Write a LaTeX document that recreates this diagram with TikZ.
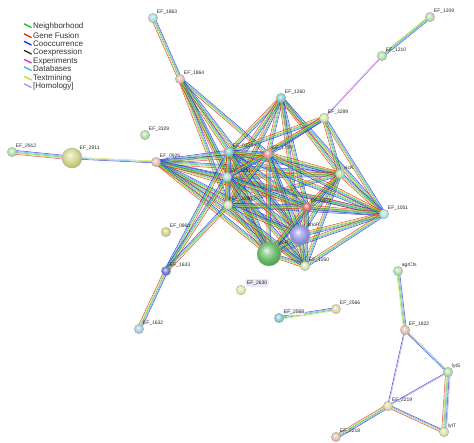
\documentclass[tikz,border=0pt]{standalone}
\usepackage{fontspec}
\setmainfont{Liberation Sans}
\usetikzlibrary{calc}
% edge colours
\definecolor{cG}{RGB}{40,190,40}
\definecolor{cR}{RGB}{230,40,40}
\definecolor{cB}{RGB}{40,40,220}
\definecolor{cK}{RGB}{40,40,40}
\definecolor{cM}{RGB}{210,50,210}
\definecolor{cC}{RGB}{70,170,230}
\definecolor{cY}{RGB}{190,220,50}
\definecolor{cL}{RGB}{160,160,235}
% node colours
\definecolor{kTeal}{RGB}{120,200,200}
\definecolor{kCyan}{RGB}{160,215,225}
\definecolor{kTan}{RGB}{225,185,165}
\definecolor{kLG}{RGB}{170,220,160}
\definecolor{kYG}{RGB}{210,225,160}
\definecolor{kPink}{RGB}{225,140,140}
\definecolor{kRed}{RGB}{220,90,90}
\definecolor{kPur}{RGB}{140,140,225}
\definecolor{kGreen}{RGB}{90,180,90}
\definecolor{kOlive}{RGB}{210,205,110}
\definecolor{kBlue}{RGB}{90,105,200}
\definecolor{kLBlue}{RGB}{165,200,230}
\definecolor{kYel}{RGB}{225,225,160}
\definecolor{kBeige}{RGB}{230,210,160}
\definecolor{kBig}{RGB}{205,210,130}
\definecolor{halo}{RGB}{232,232,248}
\makeatletter
\pgfdeclareradialshading[tikz@ball]{lball}{\pgfqpoint{-6bp}{8bp}}{%
  color(0bp)=(tikz@ball!10!white);
  color(8bp)=(tikz@ball!55!white);
  color(18bp)=(tikz@ball!90!white);
  color(28bp)=(tikz@ball!88!black);
  color(36bp)=(tikz@ball!72!black);
  color(50bp)=(tikz@ball!60!black)}
\tikzset{lball color/.code={\pgfutil@colorlet{tikz@ball}{#1}\def\tikz@shading{lball}\tikz@addmode{\tikz@mode@shadetrue}}}
\makeatother
\pgfdeclarelayer{bg}
\pgfsetlayers{bg,main}
\newcount\lkn
\def\lkgap{0.95}
\def\Cf{cR,cY,cG,cC,cB}
\def\Cfl{cR,cY,cG,cC,cB,cL}
\def\Cthree{cB,cC,cY}
\def\Cfour{cY,cG,cC,cB}
\def\Chom{cL,cM}
\def\Cbl{cB,cL}
\def\Crt{cR,cY,cC,cB}
\newcommand\lnk[3]{%
  \global\lkn=0
  \foreach \c in #1 {\global\advance\lkn by 1}%
  \foreach \c [count=\i] in #1 {%
    \pgfmathsetmacro\lkoff{(\i-1-(\the\lkn-1)/2)*\lkgap}%
    \draw[\c, lk] let \p1=(#2.center), \p2=(#3.center),
      \n1={atan2(\y2-\y1,\x2-\x1)+90} in
      ($(\p1)+(\n1:\lkoff pt)$) -- ($(\p2)+(\n1:\lkoff pt)$);
  }}
\tikzset{
  nd/.style={circle, inner sep=0pt, minimum size=9.5pt, draw=black!35, line width=0.3pt},
  lbl/.style={font=\fontsize{5}{5}\selectfont, text=black!85, inner sep=0.3pt},
  lk/.style={line width=0.5pt, opacity=0.85},
  leg/.style={font=\fontsize{8}{8}\selectfont, text=black!80, anchor=west, inner sep=0pt},
  legline/.style={line width=1.3pt},
}
\newcommand\pn[5][9.5pt]{\node[nd, minimum size=#1, lball color=#4,
  label={[lbl,anchor=south west]45:#5}] (#2) at (#3) {};}
\begin{document}
\begin{tikzpicture}[x=1pt,y=-1pt]
\begin{pgfonlayer}{bg}
\fill[white] (0,0) rectangle (474,442);
\end{pgfonlayer}
\useasboundingbox (0,0) rectangle (474,442);
% legend
\foreach \t/\yy/\cc [count=\k] in {Neighborhood/26/cG, Gene Fusion/36/cR, Cooccurrence/43.5/cB,
  Coexpression/52.5/cK, Experiments/61.5/cM, Databases/69/cC, Textmining/78.5/cY, {[Homology]}/86/cL}{
  \draw[legline, \cc] (24,\yy-2.2) -- (31.5,\yy+1.6);
  \node[leg] (leg\k) at (33,\yy) {\t};
}
% nodes
\pn{n1863}{153,18}{kCyan}{EF\_1863}
\pn{n1864}{180,79}{kTan}{EF\_1864}
\pn{n1209}{430,17}{kLG}{EF\_1209}
\pn{n1210}{382,56}{kLG}{EF\_1210}
\pn{n3289}{324,118}{kYG}{EF\_3289}
\pn{n1260}{281,98}{kTeal}{EF\_1260}
\pn{n3329}{145,135}{kLG}{EF\_3329}
\pn{n2912}{12,152}{kLG}{EF\_2912}
\pn[20pt]{n2911}{72,158}{kBig}{EF\_2911}
\pn{n0926}{156,162}{kTan}{EF\_0926}
\pn{n0373}{229,152}{kTeal}{EF\_0373}
\pn{n1704}{268,154}{kPink}{EF\_1704}
\pn{n1261}{227,177}{kCyan}{EF\_1261}
\pn{n3290}{228,205}{kYG}{EF\_3290}
\pn{n0372}{307,207}{kRed}{EF\_0372}
\pn{vicK}{340,174}{kLG}{vicK}
\pn{n1051}{384,214}{kTeal!60!white}{EF\_1051}
\pn[20pt]{phoP}{300,235}{kPur}{phoP}
\pn[24pt]{VicR}{269,254}{kGreen}{VicR}
\pn{n1050}{305,266}{kYG}{EF\_1050}
\pn{n0960}{166,232}{kOlive}{EF\_0960}
\pn{n1633}{166,271}{kBlue}{EF\_1633}
\pn{n1632}{139,329}{kLBlue}{EF\_1632}
\node[nd, lball color=kYel] (n2630) at (241,290) {};
\node[lbl, fill=halo, rounded corners=3pt, inner sep=1.8pt, anchor=south west] (t2630) at ($(n2630.north east)+(0.5,0.5)$) {EF\_2630};
\node[nd, lball color=kTeal] (n2568) at (279,318) {};
\node[lbl, fill=halo!60!white, rounded corners=3pt, inner sep=1pt, anchor=south west] (t2568) at ($(n2568.north east)+(0.3,0.8)$) {EF\_2568};
\pn{n2566}{336,309}{kBeige}{EF\_2566}
\pn{agrCfs}{398,271}{kLG}{agrCfs}
\pn{n1822}{405,330}{kTan}{EF\_1822}
\pn{lytS}{448,372}{kLG}{lytS}
\pn{lytT}{444,432}{kYG}{lytT}
\pn{n2219}{388,406}{kBeige}{EF\_2219}
\pn{n2218}{336,437}{kTan}{EF\_2218}
% edges
\begin{pgfonlayer}{bg}
\lnk\Cf{n1863}{n1864}
\lnk\Cfour{n1209}{n1210}
\lnk\Chom{n1210}{n3289}
\lnk\Cf{n2912}{n2911}
\lnk\Cthree{n2911}{n0926}
\lnk\Cf{n1633}{n1632}
\lnk\Cfour{n2568}{n2566}
\lnk\Cfour{agrCfs}{n1822}
\lnk\Cthree{n1822}{lytS}
\lnk\Cbl{n1822}{n2219}
\lnk\Cfl{lytS}{lytT}
\lnk\Cbl{lytS}{n2219}
\lnk\Crt{n2219}{lytT}
\lnk\Cf{n2219}{n2218}
% cluster
\foreach \b in {n0373,n1704,n1261,n3290,VicR,phoP} {\lnk\Cf{n1864}{\b}}
\foreach \b in {n0373,n1704,n1261,n3290,vicK,n0372,phoP,VicR,n1051,n1050} {\lnk\Cf{n0926}{\b}}
\foreach \b in {n0373,n1704,n1261,n3290,vicK,n1051,n0372,phoP} {\lnk\Cf{n1260}{\b}}
\foreach \b in {n0373,n1704,n1261,vicK,n1051} {\lnk\Cf{n3289}{\b}}
\foreach \b in {n0373,n1704,n1261,n3290,n0372,phoP,VicR,n1050,n1051} {\lnk\Cf{vicK}{\b}}
\foreach \b in {n0373,n1261,n3290,n0372,phoP,VicR,n1050,n1704} {\lnk\Cf{n1051}{\b}}
\foreach \b in {n0373,n1261,n3290} {\lnk\Cf{n1633}{\b}}
\foreach \b in {n1704,n1261,n3290,n0372,phoP,VicR,n1050} {\lnk\Cf{n0373}{\b}}
\foreach \b in {n1261,n3290,n0372,phoP,VicR,n1050} {\lnk\Cf{n1704}{\b}}
\foreach \b in {n3290,n0372,phoP,VicR,n1050} {\lnk\Cf{n1261}{\b}}
\foreach \b in {n0372,phoP,VicR,n1050} {\lnk\Cf{n3290}{\b}}
\foreach \b in {phoP,VicR,n1050} {\lnk\Cf{n0372}{\b}}
\foreach \b in {VicR,n1050} {\lnk\Cf{phoP}{\b}}
\lnk\Cf{VicR}{n1050}
\end{pgfonlayer}
\end{tikzpicture}
\end{document}
